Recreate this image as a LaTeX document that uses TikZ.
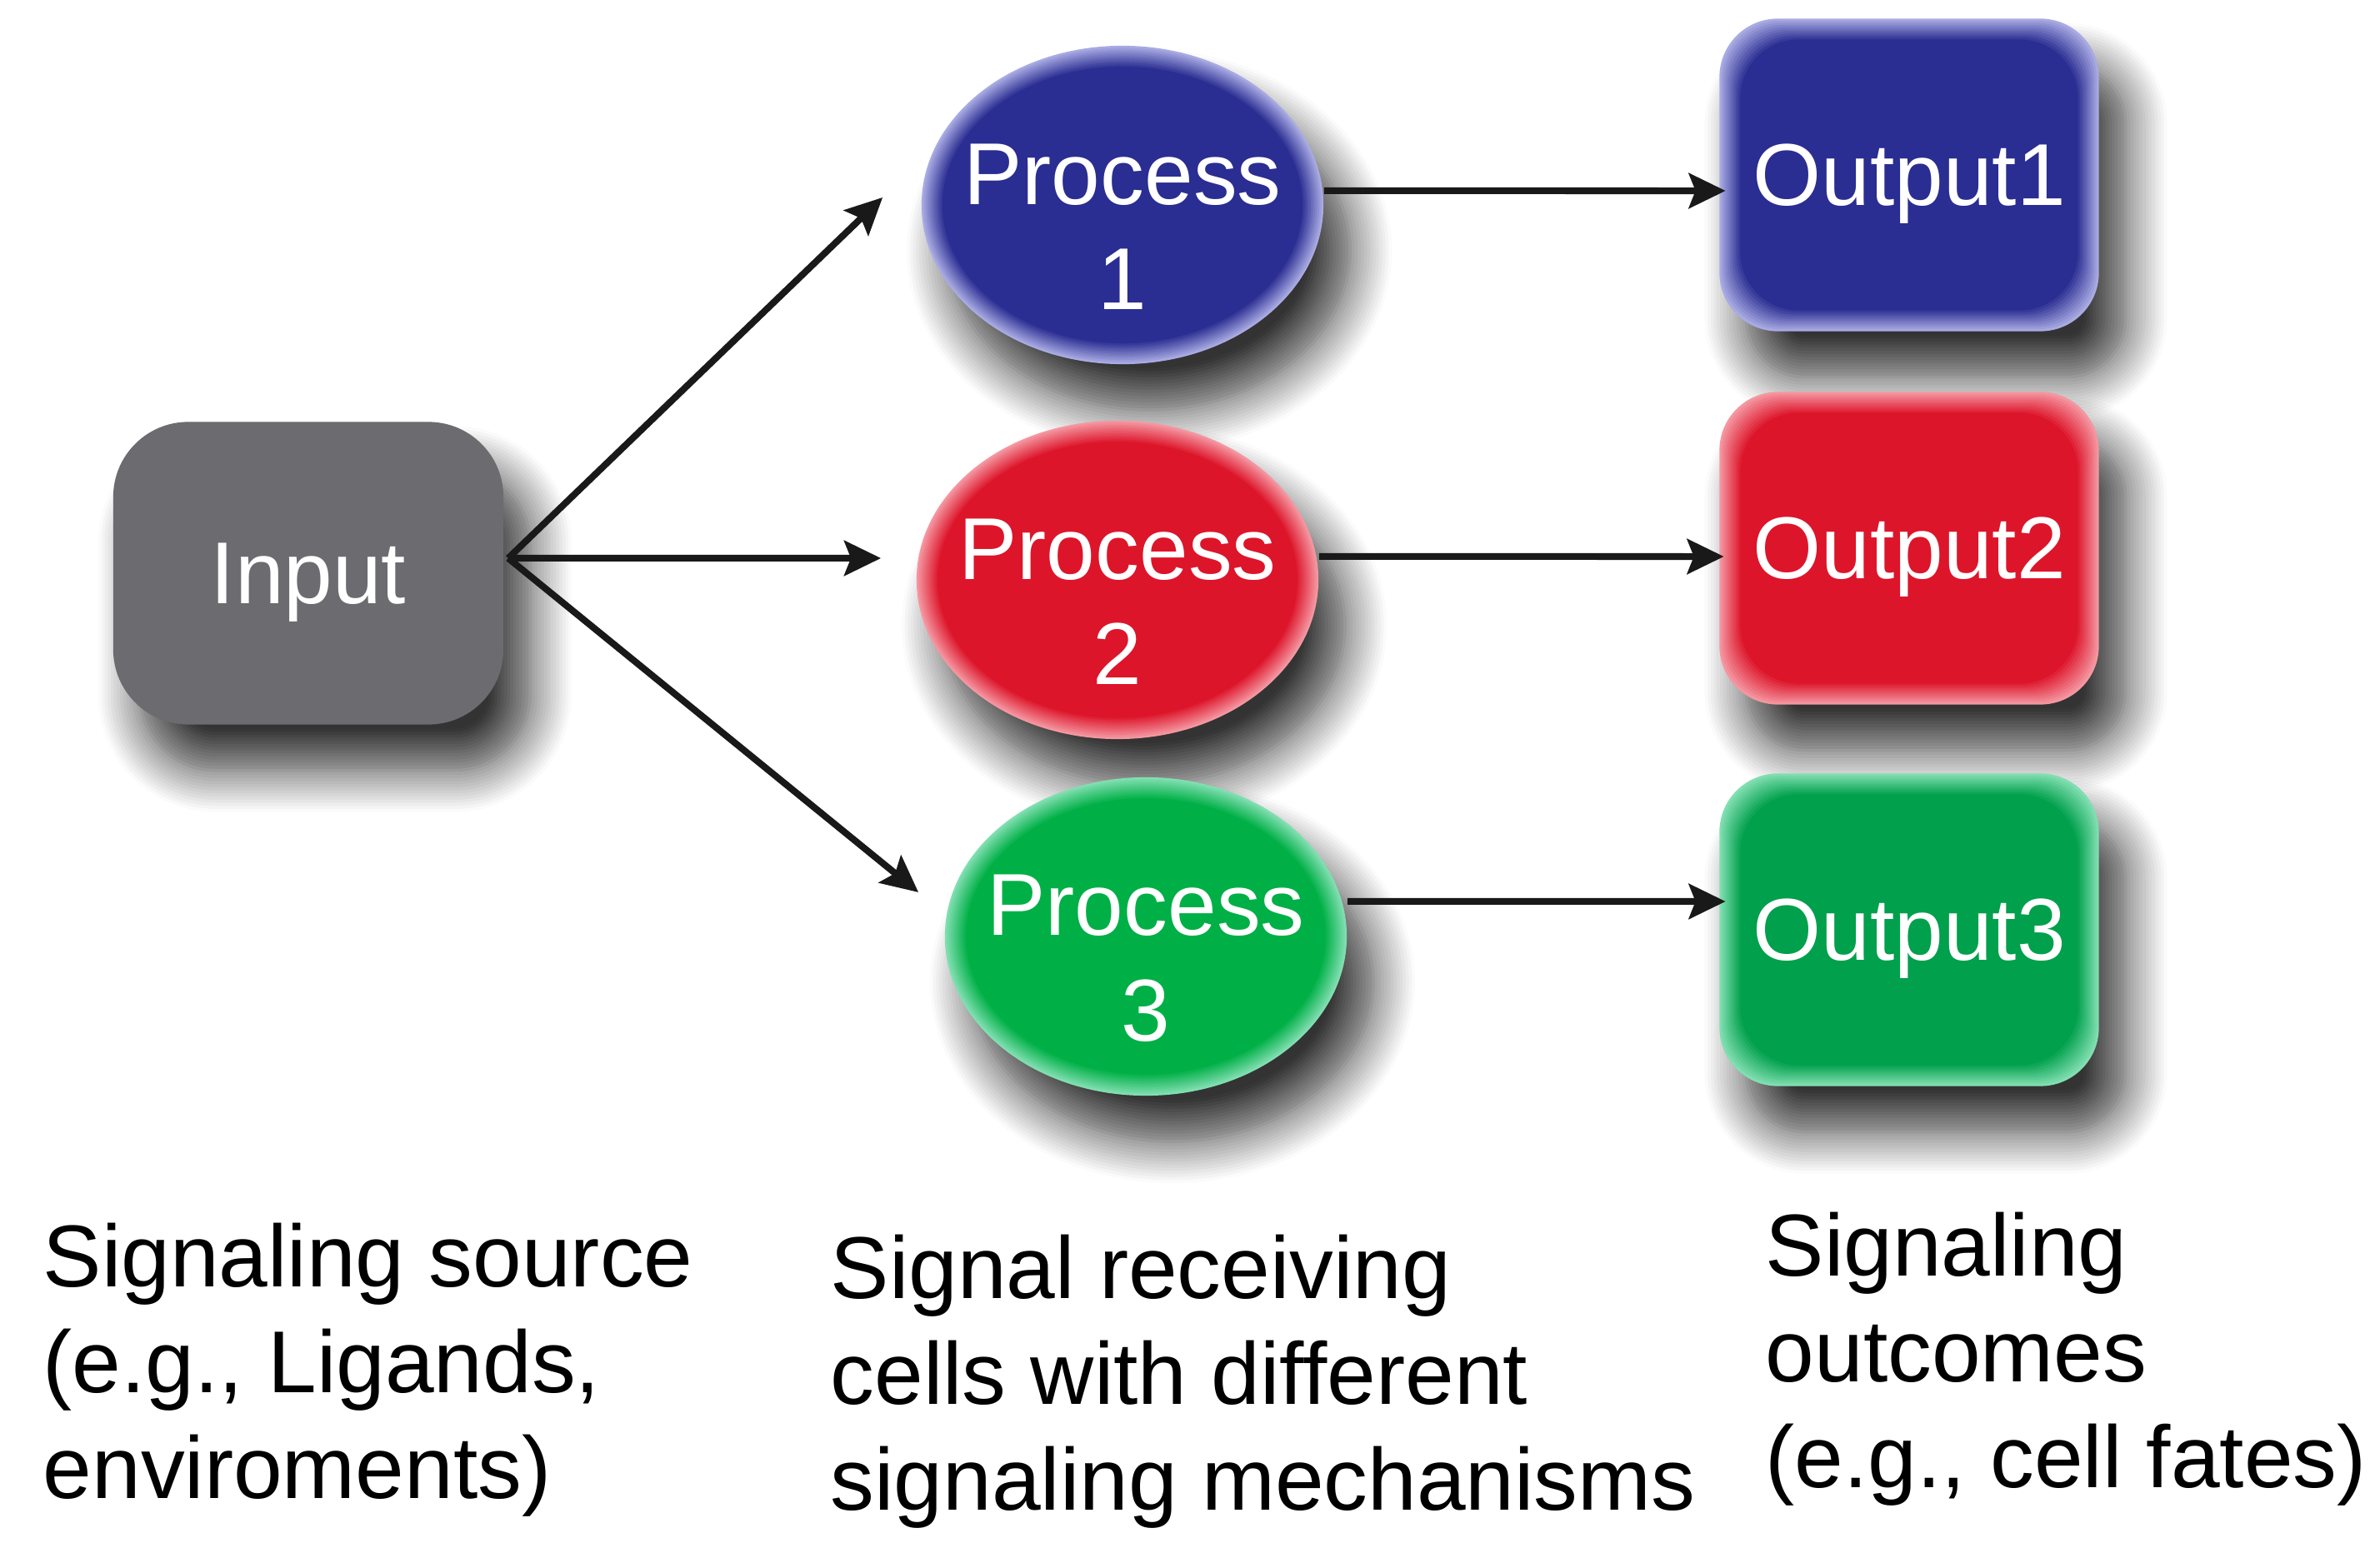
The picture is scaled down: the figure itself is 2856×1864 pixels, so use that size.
\documentclass[tikz,border=0pt]{standalone}
\usepackage{fontspec}
\setmainfont{Liberation Sans}
\usetikzlibrary{shapes.geometric,arrows.meta,shadows.blur}

\definecolor{inGray}{RGB}{107,107,112}
\definecolor{pBlue}{RGB}{42,45,145}
\definecolor{pBlueL}{RGB}{168,170,226}
\definecolor{pRed}{RGB}{221,21,42}
\definecolor{pRedL}{RGB}{244,150,160}
\definecolor{pGreen}{RGB}{0,176,70}
\definecolor{oGreen}{RGB}{0,160,76}
\definecolor{pGreenL}{RGB}{128,222,176}

% strut that drops the two text lines a little inside the ellipses
\newcommand{\procstrut}{\rule{0pt}{1.25cm}}

\tikzset{
  drop/.style={blur shadow={shadow xshift=0.32cm, shadow yshift=-0.55cm,
      shadow blur radius=0.5cm, shadow blur steps=14, shadow opacity=80}},
  inbox/.style={drop, rectangle, rounded corners=0.9cm, fill=inGray, text depth=0pt,
      minimum width=4.68cm, minimum height=3.63cm, text=white},
  proc/.style 2 args={drop, ellipse, fill=#2, inner xsep=-0.6cm, inner ysep=-0.4cm,
      minimum width=4.82cm, minimum height=3.82cm, text=white, align=center,
      path picture={\foreach \k [evaluate=\k as \pc using int(10*\k)] in {1,...,10}
        \fill[#1!\pc!#2] (path picture bounding box.center)
          ellipse [x radius=2.41cm-\k*0.025cm, y radius=1.91cm-\k*0.025cm];}},
  outbox/.style 2 args={drop, rectangle, rounded corners=0.7cm, fill=#2, text depth=0pt,
      minimum width=4.55cm, minimum height=3.75cm, text=white,
      path picture={\foreach \k [evaluate=\k as \pc using int(10*\k)] in {1,...,10}
        \fill[#1!\pc!#2] ([shift={(\k*0.025cm,\k*0.025cm)}]path picture bounding box.south west)
          rectangle ([shift={(-\k*0.025cm,-\k*0.025cm)}]path picture bounding box.north east);}},
  flow/.style={-{Stealth[length=0.44cm,width=0.42cm,inset=0.08cm]}, line width=0.08cm, black!90},
  caption/.style={anchor=base west, align=left, inner sep=0pt, text=black}
}

\begin{document}
\begin{tikzpicture}[x=0.01cm, y=-0.01cm, font=\fontsize{30}{36}\selectfont]
  \useasboundingbox (0,0) rectangle (2856,1864);
  \node[inbox] (Input) at (370,688) {Input};
  \node[proc={pBlue}{pBlueL}] (P1) at (1347,246) {\procstrut Process\\1};
  \node[proc={pRed}{pRedL}] (P2) at (1341,696) {\procstrut Process\\2};
  \node[proc={pGreen}{pGreenL}] (P3) at (1375,1124) {\procstrut Process\\3};
  \node[outbox={pBlue}{pBlueL}] (O1) at (2291,210) {Output1};
  \node[outbox={pRed}{pRedL}] (O2) at (2291,658) {Output2};
  \node[outbox={oGreen}{pGreenL}] (O3) at (2291,1116) {Output3};
  \coordinate (fork) at ([xshift=0.05cm,yshift=0.18cm]Input.east);
  \begin{scope}[flow]
    \draw (fork) to ([xshift=-0.46cm,yshift=0.09cm]P1.west);
    \draw (fork) to ([xshift=-0.42cm,yshift=0.26cm]P2.west);
    \draw (fork) to ([xshift=-0.31cm,yshift=0.53cm]P3.west);
    \draw ([yshift=0.17cm]P1.east) to ([xshift=0.08cm,yshift=-0.19cm]O1.west);
    \draw ([yshift=0.28cm]P2.east) to ([xshift=0.06cm,yshift=-0.10cm]O2.west);
    \draw ([yshift=0.42cm]P3.east) to ([xshift=0.08cm,yshift=0.34cm]O3.west);
  \end{scope}
  \node[caption] (srcTxt) at (51,1798) {Signaling source\\(e.g., Ligands,\\enviroments)};
  \node[caption] (cellTxt) at (996,1812) {Signal receiving\\cells with different\\signaling mechanisms};
  \node[caption] (fateTxt) at (2118,1785) {Signaling\\outcomes\\(e.g., cell fates)};
\end{tikzpicture}
\end{document}
